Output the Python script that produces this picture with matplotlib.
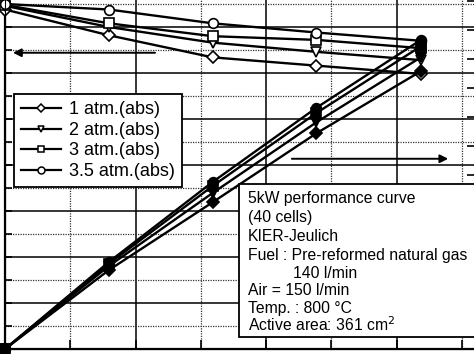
import matplotlib as mpl
mpl.use("Agg")
import matplotlib.pyplot as plt
from matplotlib.lines import Line2D
from matplotlib.patches import Rectangle
from matplotlib.ticker import MultipleLocator

plt.rcParams['font.family'] = ['Liberation Sans', 'DejaVu Sans']

# current (x) and the four pressures
current = [0, 15.9, 31.8, 47.7, 63.7]
labels = ["1 atm.(abs)", "2 atm.(abs)", "3 atm.(abs)", "3.5 atm.(abs)"]
markers = ["D", "v", "s", "o"]

# stack voltage (left axis)
volt_1 = [36.9, 34.1, 31.7, 30.8, 29.9]
volt_2 = [37.3, 35.0, 33.3, 32.3, 31.4]
volt_3 = [37.4, 35.4, 34.0, 33.6, 32.7]
volt_35 = [37.5, 36.9, 35.4, 34.4, 33.5]

# stack power, kW (right axis)
power_1 = [0, 1.36, 2.53, 3.72, 4.79]
power_2 = [0, 1.43, 2.69, 3.91, 5.03]
power_3 = [0, 1.47, 2.81, 4.07, 5.22]
power_35 = [0, 1.50, 2.88, 4.16, 5.33]

volts = [volt_1, volt_2, volt_3, volt_35]
powers = [power_1, power_2, power_3, power_35]

W, H = 474, 354
fig = plt.figure(figsize=(W / 100, H / 100), dpi=100)

def fx(px):
    return px / W

def fy(py):
    return 1 - py / H

# axes extends past the crop on the top and right
ax = fig.add_axes([fx(5), fy(349), (72 * 6.53) / W, 368 / H])
ax.set_xlim(0, 72)
ax.set_ylim(0, 40)
ax2 = ax.twinx()
ax2.set_ylim(0, 368 / 58.0)

ax.xaxis.set_major_locator(MultipleLocator(20))
ax.xaxis.set_minor_locator(MultipleLocator(10))
ax.yaxis.set_major_locator(MultipleLocator(5))
ax.yaxis.set_minor_locator(MultipleLocator(2.5))
ax.grid(True, which='major', color='black', lw=1.1, ls='-')
ax.grid(True, which='minor', color='#333333', lw=0.9, ls=(0, (1, 1)))
ax.set_axisbelow(True)

ax.tick_params(which='both', direction='in', labelleft=False, labelbottom=False,
               width=1.2, color='black')
ax.tick_params(axis='y', which='both', length=5)
ax.tick_params(axis='x', which='both', length=6.5)
ax2.yaxis.set_major_locator(MultipleLocator(0.5))
ax2.tick_params(direction='in', length=6, width=1.2, labelright=False)
for s in ['left', 'bottom']:
    ax.spines[s].set_linewidth(1.6)

for v, p, m in zip(volts, powers, markers):
    ax.plot(current, v, color='black', lw=1.7, marker=m, ms=7 if m != 'D' else 6,
            mfc='white', mec='black', mew=1.2, zorder=3, clip_on=False)
    ax2.plot(current, p, color='black', lw=1.7, marker=m, ms=7 if m != 'D' else 6,
             mfc='black', mec='black', mew=1.2, zorder=3, clip_on=False)

# direction arrows
ax.annotate("", xy=(0.8, 32.2), xytext=(23.4, 32.2),
            arrowprops=dict(arrowstyle='-|>', mutation_scale=12, lw=1.4, color='black'))
ax2.annotate("", xy=(68.3, 3.28), xytext=(43.5, 3.28),
             arrowprops=dict(arrowstyle='-|>', mutation_scale=12, lw=1.4, color='black'))

handles = [Line2D([], [], color='black', lw=1.6, marker=m, ms=5 if m != 'D' else 4.5,
                  mfc='white', mec='black', mew=1.1) for m in markers]
leg = fig.legend(handles, labels, loc='upper left', bbox_to_anchor=(fx(14), fy(94)),
                 bbox_transform=fig.transFigure, borderaxespad=0, fontsize=13,
                 handlelength=2.2, handletextpad=0.45, labelspacing=0.2,
                 borderpad=0.4, fancybox=False, framealpha=1, edgecolor='black')
leg.get_frame().set_linewidth(1.3)
leg.set_zorder(10)

# condition box
fig.patches.append(Rectangle((fx(239), fy(337)), fx(250), (337 - 184) / H,
                             transform=fig.transFigure, facecolor='white',
                             edgecolor='black', lw=1.3, zorder=9))
box_lines = [
    (248, 203, "5kW performance curve"),
    (248, 222, "(40 cells)"),
    (248, 241, "KIER-Jeulich"),
    (248, 260, "Fuel : Pre-reformed natural gas"),
    (293, 278, "140 l/min"),
    (248, 295, "Air = 150 l/min"),
    (248, 313, "Temp. : 800 \u00b0C"),
    (248, 331, "Active area: 361 cm$^2$"),
]
for x, y, t in box_lines:
    fig.text(fx(x), fy(y), t, fontsize=11.3, va='baseline', ha='left', zorder=11)

fig.savefig("out.png", dpi=100)
